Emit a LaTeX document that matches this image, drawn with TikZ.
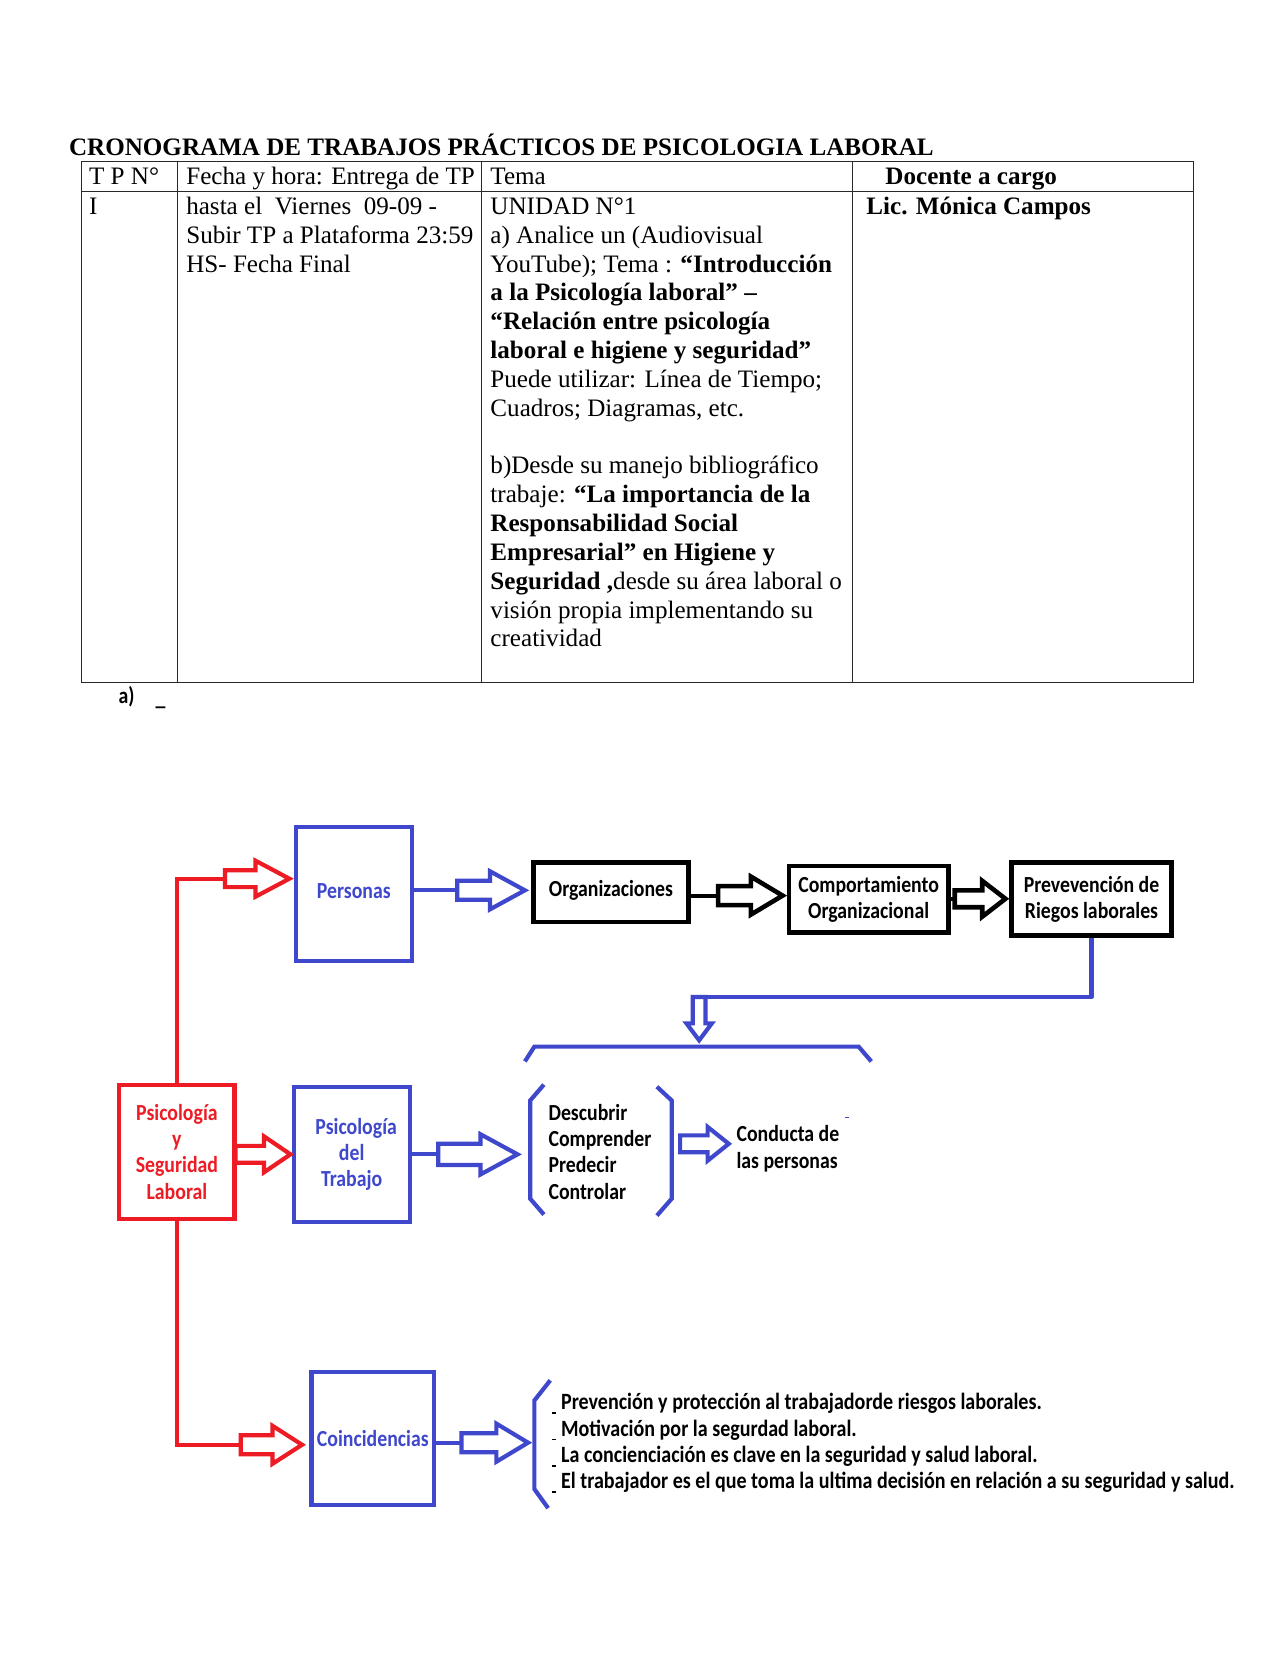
\documentclass[tikz,border=0pt]{standalone}
\usepackage{fontspec}
\setmainfont{Liberation Serif}
\newfontfamily\dg[FakeStretch=0.86]{Carlito}
\usetikzlibrary{calc}
\definecolor{pred}{RGB}{237,28,36}
\definecolor{pblue}{RGB}{63,72,204}
\definecolor{tline}{RGB}{40,40,40}
\def\U{0.50495pt}
\tikzset{
  pics/barrow/.style args={#1/#2/#3/#4}{code={
    \draw[fill=white,line join=miter] (0,#2) -- ({#1-#4},#2) -- ({#1-#4},#3) -- (#1,0) -- ({#1-#4},-#3) -- ({#1-#4},-#2) -- (0,-#2) -- cycle;}},
  tx/.style={anchor=base west, inner sep=0pt, font=\fontsize{12}{13.8}\selectfont},
  dgt/.style={font=\dg\bfseries\fontsize{11}{12.62}\selectfont},
  bbox/.style={draw=pblue, line width=2pt, text=pblue, align=center, inner sep=0pt, dgt},
  rbox/.style={draw=pred, line width=2pt, text=pred, align=center, inner sep=0pt, dgt},
  kbox/.style={draw=black, line width=2.3pt, text=black, align=center, inner sep=0pt, dgt},
  bline/.style={draw=pblue, line width=2pt},
  rline/.style={draw=pred, line width=2pt},
  kline/.style={draw=black, line width=2pt},
  tab/.style={draw=tline, line width=0.6pt}
}
\begin{document}
\begin{tikzpicture}[x=0.50495pt,y=-0.50495pt]
\useasboundingbox[fill=white] (0,0) rectangle (1212,1568);
% ---------- title and table ----------
\node[tx,font=\bfseries\fontsize{12}{13.8}\selectfont] (title) at (65,147) {CRONOGRAMA DE TRABAJOS PRÁCTICOS DE PSICOLOGIA LABORAL};
\draw[tab] (77,153) rectangle (1130,646);
\draw[tab] (77,181) -- (1130,181);
\draw[tab] (168,153) -- (168,646);
\draw[tab] (456,153) -- (456,646);
\draw[tab] (807,153) -- (807,646);
\node[tx] (h1) at (84,175) {T P N°};
\node[tx] (h2) at (176,175) {Fecha y hora: Entrega de TP};
\node[tx] (h3) at (464,175) {Tema};
\node[tx,font=\bfseries\fontsize{12}{13.8}\selectfont] (h4) at (838,175) {Docente a cargo};
\node[tx] (c1) at (84,203) {I};
\node[tx] (d1) at (176,203) {hasta el\ \ Viernes\ \ 09-09 -};
\node[tx] (d2) at (176,230.3) {Subir TP a Plataforma 23:59};
\node[tx] (d3) at (176,257.6) {HS- Fecha Final};
\node[tx] (e1) at (464,203) {UNIDAD N°1};
\node[tx] (e2) at (464,230.3) {a) Analice un (Audiovisual};
\node[tx] (e3) at (464,257.6) {YouTube); Tema : \textbf{“Introducción}};
\node[tx] (e4) at (464,284.9) {\textbf{a la Psicología laboral” –}};
\node[tx] (e5) at (464,312.2) {\textbf{“Relación entre psicología}};
\node[tx] (e6) at (464,339.5) {\textbf{laboral e higiene y seguridad”}};
\node[tx] (e7) at (464,366.8) {Puede utilizar: Línea de Tiempo;};
\node[tx] (e8) at (464,394.1) {Cuadros; Diagramas, etc.};
\node[tx] (e10) at (464,448.7) {b)Desde su manejo bibliográfico};
\node[tx] (e11) at (464,476) {trabaje: \textbf{“La importancia de la}};
\node[tx] (e12) at (464,503.3) {\textbf{Responsabilidad Social}};
\node[tx] (e13) at (464,530.6) {\textbf{Empresarial” en Higiene y}};
\node[tx] (e14) at (464,557.9) {\textbf{Seguridad ,}desde su área laboral o};
\node[tx] (e15) at (464,585.2) {visión propia implementando su};
\node[tx] (e16) at (464,612.5) {creatividad};
\node[tx,font=\bfseries\fontsize{12}{13.8}\selectfont] (f1) at (820,203) {Lic. Mónica Campos};
\node[anchor=base west, inner sep=0pt, dgt] (amark) at (112,666) {a)};
\node[anchor=base west, inner sep=0pt, dgt] (amark2) at (147,668) {\_};
% ---------- diagram boxes ----------
\node[bbox, minimum width=110*\U, minimum height=127*\U] (pers) at (335,846.5) {\raisebox{3pt}{Personas}};
\node[kbox, minimum width=147*\U, minimum height=56*\U] (org) at (578.5,845) {\raisebox{3.5pt}{Organizaciones}};
\node[kbox, minimum width=151*\U, minimum height=63*\U] (comp) at (822.5,851.5) {Comportamiento\\Organizacional};
\node[kbox, minimum width=151*\U, minimum height=69*\U] (prev) at (1033.5,851.5) {Prevevención de\\Riegos laborales};
\node[rbox, minimum width=109*\U, minimum height=127*\U] (psl) at (167.5,1090.5) {Psicología\\y\\Seguridad\\Laboral};
\node[bbox, minimum width=110*\U, minimum height=128*\U] (pdt) at (333,1093) {\ \ Psicología\\del\\Trabajo};
\node[bbox, minimum width=116*\U, minimum height=126*\U] (coin) at (353,1362) {Coincidencias};
\node[anchor=west, align=left, inner sep=0pt, dgt] (verbs) at (519,1090.5) {Descubrir\\Comprender\\Predecir\\Controlar};
\node[anchor=west, align=left, inner sep=0pt, dgt] (cond) at (697,1087.5) {Conducta de\\las personas};
\node[anchor=west, align=left, inner sep=0pt, font=\dg\bfseries\fontsize{11.15}{12.62}\selectfont] (list) at (522,1366.5) {%
\raisebox{-2pt}{\rule{2pt}{0.8pt}}\hspace{2.5pt}Prevención y protección al trabajadorde riesgos laborales.\\
\raisebox{-2pt}{\rule{2pt}{0.8pt}}\hspace{2.5pt}Motivación por la segurdad laboral.\\
\raisebox{-2pt}{\rule{2pt}{0.8pt}}\hspace{2.5pt}La concienciación es clave en la seguridad y salud laboral.\\
\raisebox{-2pt}{\rule{2pt}{0.8pt}}\hspace{2.5pt}El trabajador es el que toma la ultima decisión en relación a su seguridad y salud.};
% ---------- connectors ----------
\coordinate (ra1) at (213,832);
\coordinate (ra2) at (223,1093);
\coordinate (ra3) at (228,1368);
\coordinate (pa1) at (433,843);
\coordinate (oa1) at (680,848);
\coordinate (ca1) at (904,851);
\coordinate (da1) at (662,944);
\coordinate (ta1) at (415,1093);
\coordinate (ba1) at (644,1083);
\coordinate (ka1) at (437,1366);
\draw[rline] (psl.north) |- (ra1);
\pic[pred, line width=2pt] at (ra1) {barrow={61/8/17/32}};
\draw[rline] (psl.south) |- (ra3);
\pic[pred, line width=2pt] at (ra3) {barrow={58/9/18/28}};
\pic[pred, line width=2pt] at (ra2) {barrow={52/8/17/25}};
\draw[bline] (pers.east |- pa1) -- (pa1);
\pic[pblue, line width=2pt] at (pa1) {barrow={64/9/18/33}};
\draw[kline] (org.east |- oa1) -- (oa1);
\pic[black, line width=2.2pt] at (oa1) {barrow={61/9/18/30}};
\draw[kline] (comp.east |- ca1) -- (ca1);
\pic[black, line width=2.2pt] at (ca1) {barrow={48/8/17/22}};
\draw[bline, line join=round] (prev.south) |- (da1);
\pic[pblue, line width=2pt, rotate=-90] at (da1) {barrow={41/6/12/16}};
\draw[bline] (pdt.east |- ta1) -- (ta1);
\pic[pblue, line width=2pt] at (ta1) {barrow={75/10/19/35}};
\pic[pblue, line width=2pt] at (ba1) {barrow={46/8/16/20}};
\draw[bline] (coin.east |- ka1) -- (ka1);
\pic[pblue, line width=2pt] at (ka1) {barrow={63/9/18/30}};
% ---------- braces / brackets ----------
\draw[bline] (497,1005) -- (506,991) -- (813,991) -- (825,1005);
\draw[bline] (515,1027) -- (502,1042) -- (502,1135) -- (515,1150);
\draw[bline] (622,1029) -- (636,1042) -- (636,1135) -- (622,1151);
\draw[bline] (521,1307) -- (506,1326) -- (506,1410) -- (519,1428);
\draw[pblue, line width=0.8pt] (800,1058) -- (804,1058);
\end{tikzpicture}
\end{document}
